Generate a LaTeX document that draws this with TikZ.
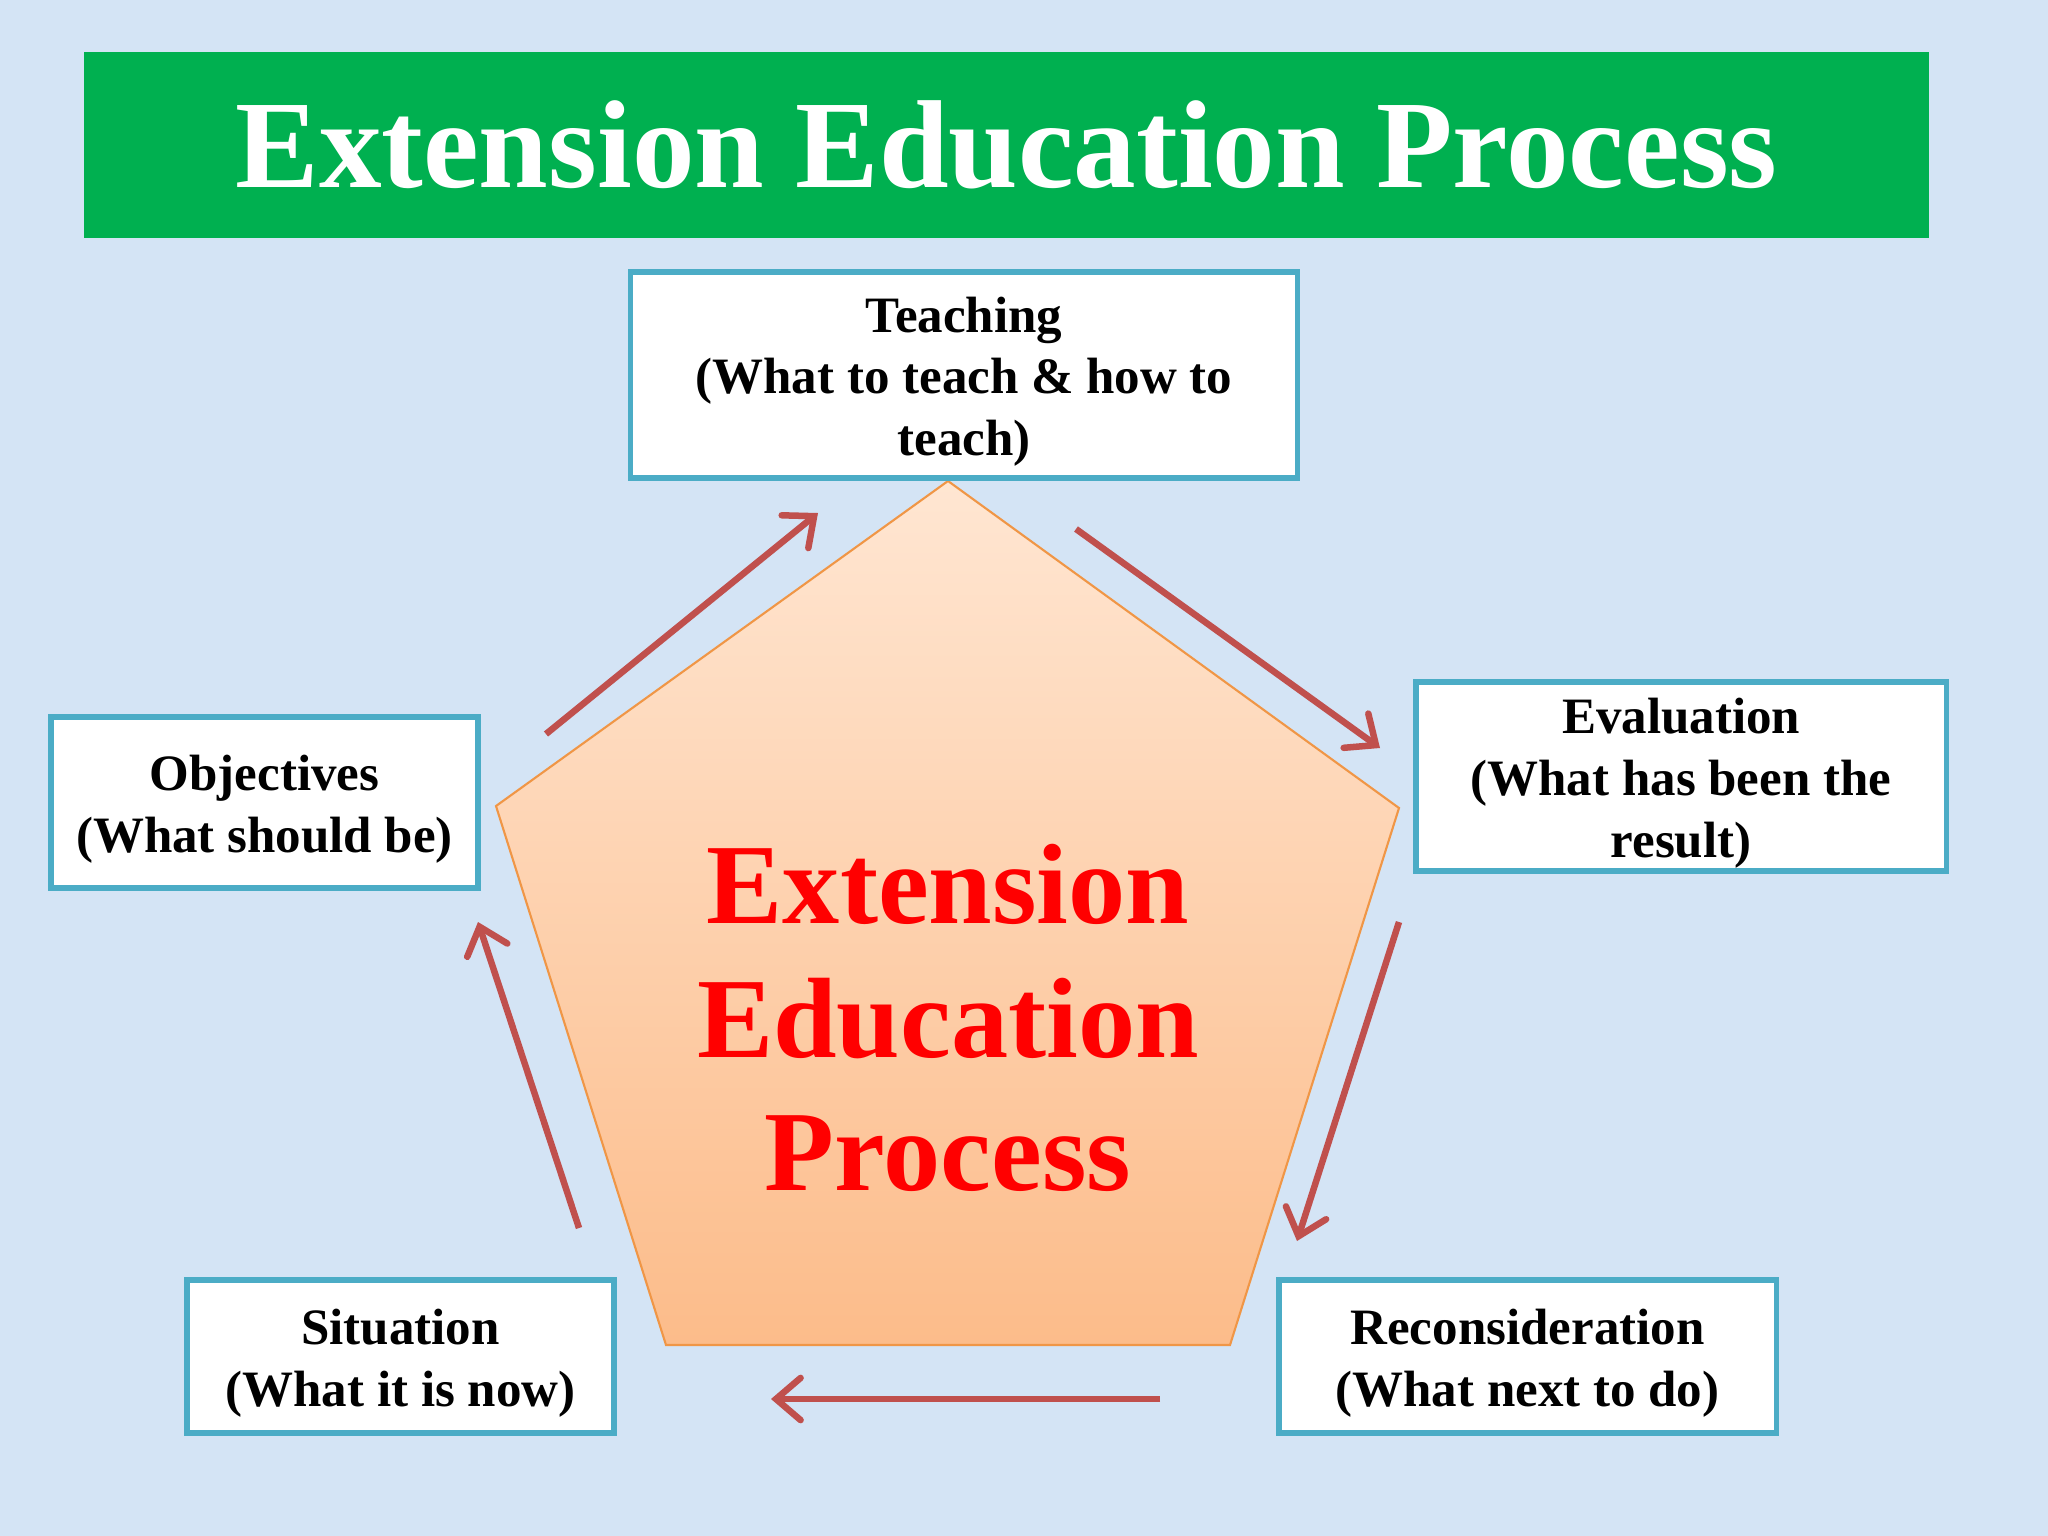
\documentclass[tikz,border=0pt]{standalone}
\usepackage{fontspec}
\setmainfont{Liberation Serif}
\usepackage{tikz}
\usetikzlibrary{arrows.meta,positioning,calc}

\definecolor{slidebg}{RGB}{212,228,245}
\definecolor{titlegreen}{RGB}{0,176,80}
\definecolor{boxline}{RGB}{75,172,198}
\definecolor{arrowred}{RGB}{192,80,77}
\definecolor{penttop}{RGB}{255,230,210}
\definecolor{pentbot}{RGB}{252,188,138}
\definecolor{pentline}{RGB}{240,150,70}

% box text, set a little low as in the slide
\newcommand{\stagetext}[1]{\raisebox{-1.9pt}[\height][\depth]{\begin{tabular}{@{}c@{}}#1\end{tabular}}}

\begin{document}
\begin{tikzpicture}[x=0.01cm, y=-0.01cm,
    stagebox/.style={rectangle, draw=boxline, line width=1.5pt, fill=white,
      font=\fontsize{14.5}{17.5}\selectfont\bfseries, inner sep=0pt},
    cyclearrow/.style={draw=arrowred, line width=1.85pt,
      -{Straight Barb[length=7pt, width=12pt, line cap=round]}}]

  % Background
  \useasboundingbox (0,0) rectangle (2048,1536);
  \fill[slidebg] (0,0) rectangle (2048,1536);

  % Title bar
  \node[rectangle, fill=titlegreen, minimum width=18.43cm, minimum height=1.86cm,
    inner sep=0pt, text=white, font=\fontsize{35.6}{40}\selectfont\bfseries]
    (title) at (1006.5,145) {Extension Education Process};

  % Pentagon corners
  \coordinate (pt)  at (948,481);
  \coordinate (pul) at (496,806);
  \coordinate (pur) at (1399,808);
  \coordinate (pbl) at (666,1345);
  \coordinate (pbr) at (1230,1345);

  \shadedraw[top color=penttop, bottom color=pentbot, draw=pentline, line width=0.6pt]
    (pt) -- (pur) -- (pbr) -- (pbl) -- (pul) -- cycle;

  \node[align=center, text=red, font=\fontsize{32.5}{38}\selectfont\bfseries]
    (centre) at (948,1018) {Extension\\Education\\Process};

  % Define nodes
  \node[stagebox, minimum width=6.66cm, minimum height=2.06cm] (teach) at (964,375)
    {\stagetext{Teaching\\(What to teach \& how to\\teach)}};
  \node[stagebox, minimum width=5.30cm, minimum height=1.89cm] (eval) at (1681,776.5)
    {\stagetext{Evaluation\\(What has been the\\result)}};
  \node[stagebox, minimum width=4.97cm, minimum height=1.53cm] (recon) at (1527.5,1356.5)
    {\stagetext{Reconsideration\\(What next to do)}};
  \node[stagebox, minimum width=4.27cm, minimum height=1.53cm] (sit) at (400.5,1356.5)
    {\stagetext{Situation\\(What it is now)}};
  \node[stagebox, minimum width=4.27cm, minimum height=1.71cm] (obj) at (264.5,802.5)
    {\stagetext{Objectives\\(What should be)}};

  % Arrow ends
  \coordinate (a1) at (546,734);   \coordinate (b1) at (818,513);
  \coordinate (a2) at (1076,529);  \coordinate (b2) at (1380,748);
  \coordinate (a3) at (1399,922);  \coordinate (b3) at (1297,1241);
  \coordinate (a4) at (1160,1399); \coordinate (b4) at (771,1399);
  \coordinate (a5) at (579,1228);  \coordinate (b5) at (478,922);

  \draw[cyclearrow] (a1) -- (b1);
  \draw[cyclearrow] (a2) -- (b2);
  \draw[cyclearrow] (a3) -- (b3);
  \draw[cyclearrow] (a4) -- (b4);
  \draw[cyclearrow] (a5) -- (b5);

\end{tikzpicture}
\end{document}
